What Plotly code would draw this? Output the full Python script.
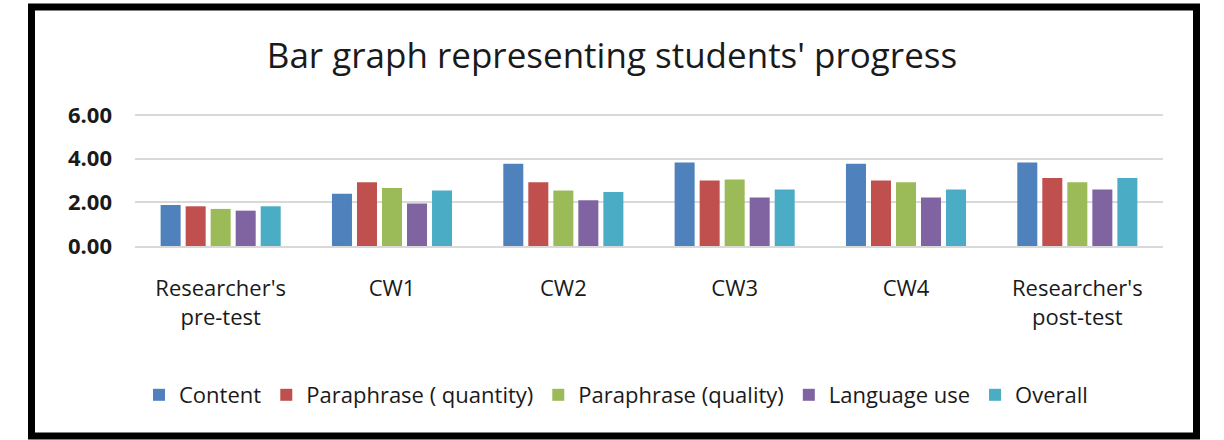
import plotly.graph_objects as go

categories = ["Researcher's<br>pre-test", "CW1", "CW2", "CW3", "CW4", "Researcher's<br>post-test"]
series_names = ["Content", "Paraphrase ( quantity)", "Paraphrase (quality)", "Language use", "Overall"]
content = [1.88, 2.40, 3.77, 3.83, 3.77, 3.83]
para_quantity = [1.82, 2.92, 2.92, 3.00, 3.00, 3.12]
para_quality = [1.70, 2.66, 2.54, 3.05, 2.92, 2.92]
language_use = [1.62, 1.95, 2.10, 2.22, 2.22, 2.59]
overall = [1.82, 2.54, 2.47, 2.59, 2.59, 3.12]
colors = ["#4F81BD", "#C0504D", "#9BBB59", "#8064A2", "#4BACC6"]
y_ticks = [0, 2, 4, 6]

W, H = 1224, 440
ML, MR, MT, MB = 135, 61, 114, 194
PW, PH = W - ML - MR, H - MT - MB

def px_x(p):
    return (p - ML) / PW

def px_y(p):
    return (H - MB - p) / PH

FONT = "Open Sans"
TXT = "#1a1a1a"

fig = go.Figure()
for name, vals, col in zip(series_names, [content, para_quantity, para_quality, language_use, overall], colors):
    fig.add_trace(go.Bar(x=categories, y=vals, name=name, marker=dict(color=col, line=dict(width=0))))

fig.update_layout(
    width=W, height=H,
    margin=dict(l=ML, r=MR, t=MT, b=MB),
    paper_bgcolor="white", plot_bgcolor="white",
    barmode="group", bargap=0.27, bargroupgap=0.2,
    title=dict(text="Bar graph representing students' progress", x=0.5, xanchor="center",
               y=1 - 56 / H, yanchor="middle", font=dict(family=FONT, size=35, color=TXT)),
    font=dict(family=FONT, color=TXT),
    showlegend=True,
    legend=dict(orientation="h", x=px_x(616), xanchor="center", y=px_y(395), yanchor="middle",
                font=dict(family=FONT, size=22, color=TXT), traceorder="normal"),
    yaxis=dict(range=[0, 6.05], tickvals=y_ticks, tickformat=".2f", showgrid=True, gridcolor="#D9D9D9",
               gridwidth=1.5, zeroline=False, showline=False, ticks="", ticklabelstandoff=22,
               tickfont=dict(family=FONT, size=22, color=TXT, weight="bold")),
    xaxis=dict(showgrid=False, showline=True, linecolor="#D9D9D9", linewidth=1.5, ticks="",
               ticklabelstandoff=22, tickfont=dict(family=FONT, size=22, color=TXT)),
    shapes=[dict(type="rect", xref="paper", yref="paper",
                 x0=px_x(31.5), x1=px_x(1196.5), y0=px_y(436), y1=px_y(7),
                 line=dict(color="black", width=7), fillcolor="rgba(0,0,0,0)", layer="above")],
)

fig.write_html("out.html")
